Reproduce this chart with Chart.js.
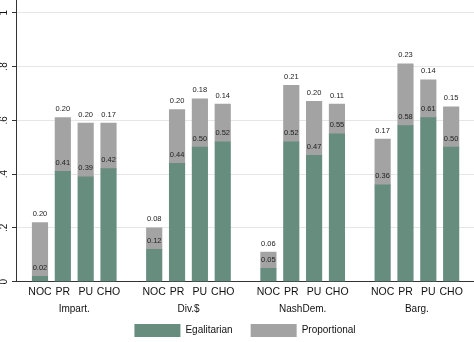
<!DOCTYPE html>
<html>
<head>
<meta charset="utf-8">
<script src="https://cdn.jsdelivr.net/npm/chart.js@4/dist/chart.umd.min.js"></script>
<style>
	html, body { margin: 0; padding: 0; background: #fff; }
	#wrap { width: 474px; height: 342px; }
</style>
</head>
<body>
<div id="wrap"><canvas id="graphic"></canvas></div>
<script>
const groups = ['Impart.', 'Div.$', 'NashDem.', 'Barg.'];
const rules = ['NOC', 'PR', 'PU', 'CHO'];
// one value per bar, group by group (NOC, PR, PU, CHO)
const egalitarian = [0.02, 0.41, 0.39, 0.42,  0.12, 0.44, 0.50, 0.52,  0.05, 0.52, 0.47, 0.55,  0.36, 0.58, 0.61, 0.50];
const proportional = [0.20, 0.20, 0.20, 0.17,  0.08, 0.20, 0.18, 0.14,  0.06, 0.21, 0.20, 0.11,  0.17, 0.23, 0.14, 0.15];
const yTicks = [0, 0.2, 0.4, 0.6, 0.8, 1];
const yTickLabels = ['0', '.2', '.4', '.6', '.8', '1'];

const GREEN = '#678d7f';
const GRAY = '#a3a3a3';
const FONT = '"Liberation Sans", Arial, sans-serif';

// bars sit on slots, one empty slot between groups
let slots = [];
let slotNames = [];
groups.forEach((g, gi) => {
	rules.forEach((r, ri) => {
		slots.push(gi * 5 + ri);
		slotNames.push(r);
	});
});
const groupCenters = groups.map((g, gi) => gi * 5 + 1.5);

function toPoints(values) {
	return values.map((v, i) => ({ x: slots[i], y: v }));
}

const valueLabels = {
	id: 'valueLabels',
	afterDatasetsDraw(chart) {
		const ctx = chart.ctx;
		ctx.save();
		ctx.font = '7.5px ' + FONT;
		ctx.fillStyle = '#222';
		ctx.textAlign = 'center';
		ctx.textBaseline = 'middle';
		chart.data.datasets.forEach((ds, di) => {
			chart.getDatasetMeta(di).data.forEach((bar, i) => {
				ctx.fillText(ds.data[i].y.toFixed(2), bar.x, bar.y - 8.5);
			});
		});
		ctx.restore();
	}
};

// rotated y tick labels and the group names under the rule names
const axisText = {
	id: 'axisText',
	afterDraw(chart) {
		const ctx = chart.ctx;
		const x = chart.scales.x;
		const y = chart.scales.y;
		ctx.save();
		ctx.font = '10px ' + FONT;
		ctx.fillStyle = '#111';
		ctx.textAlign = 'center';
		ctx.textBaseline = 'alphabetic';
		yTicks.forEach((v, i) => {
			ctx.save();
			ctx.translate(7, y.getPixelForValue(v));
			ctx.rotate(-Math.PI / 2);
			ctx.fillText(yTickLabels[i], 0, 0);
			ctx.restore();
		});
		ctx.textBaseline = 'middle';
		groups.forEach((g, i) => {
			ctx.fillText(g, x.getPixelForValue(groupCenters[i]), x.bottom + 3.5);
		});
		ctx.restore();
	}
};

new Chart(graphic, {
	type: 'bar',
	data: {
		datasets: [
			{ label: 'Egalitarian', data: toPoints(egalitarian), backgroundColor: GREEN },
			{ label: 'Proportional', data: toPoints(proportional), backgroundColor: GRAY }
		]
	},
	options: {
		responsive: true,
		maintainAspectRatio: false,
		animation: false,
		barThickness: 15.5,
		// legend hangs a little below the canvas edge
		layout: { padding: { top: 0, right: 0, left: 0, bottom: -5 } },
		scales: {
			x: {
				type: 'linear',
				position: 'bottom',
				stacked: true,
				offset: false,
				min: -1.05,
				max: 19.0,
				afterBuildTicks: s => { s.ticks = slots.map(v => ({ value: v })); },
				afterFit: s => { s.height = 24.3; },
				grid: { display: false, drawTicks: false },
				border: { display: true, color: '#333', width: 1 },
				ticks: {
					autoSkip: false,
					maxRotation: 0,
					padding: 4,
					color: '#111',
					font: { family: FONT, size: 10.5 },
					callback: (v, i) => slotNames[i]
				}
			},
			y: {
				stacked: true,
				min: 0,
				max: 1.047,
				afterBuildTicks: s => { s.ticks = yTicks.map(v => ({ value: v })); },
				afterFit: s => { s.width = 16; },
				grid: { color: '#e6e6e6', lineWidth: 1, tickLength: 4, tickColor: '#333', drawTicks: true },
				border: { display: true, color: '#333', width: 1 },
				ticks: { display: false }
			}
		},
		plugins: {
			tooltip: { enabled: false },
			legend: {
				position: 'bottom',
				fullSize: false,
				labels: {
					boxWidth: 46,
					boxHeight: 13,
					padding: 18,
					color: '#111',
					font: { family: FONT, size: 10 }
				}
			}
		}
	},
	plugins: [valueLabels, axisText]
});
</script>
</body>
</html>
